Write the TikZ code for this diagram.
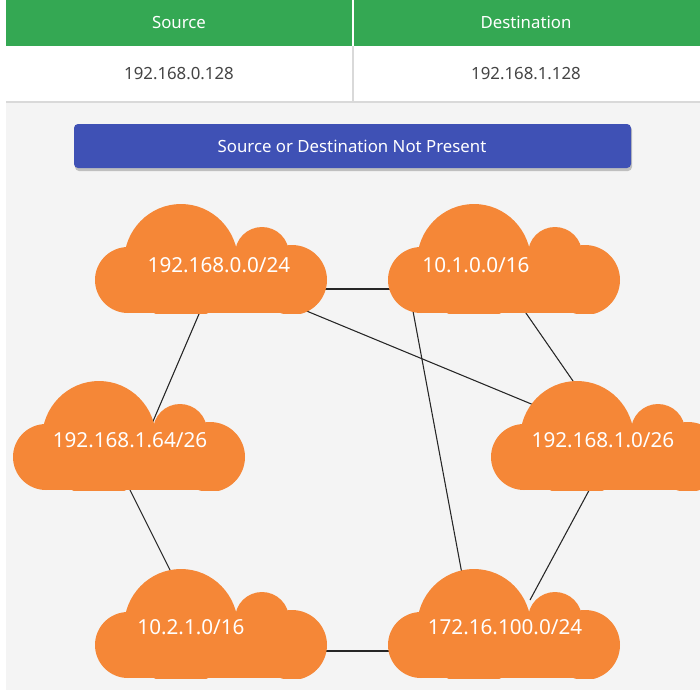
\documentclass[tikz,border=0pt]{standalone}
\usepackage{fontspec}
\setmainfont{Noto Sans}
\definecolor{hdr}{HTML}{34A853}
\definecolor{btn}{HTML}{3F51B5}
\definecolor{bg}{HTML}{F4F4F4}
\definecolor{cloudc}{HTML}{F58737}
\definecolor{txt}{HTML}{444444}
\begin{document}
\begin{tikzpicture}[x=0.75pt,y=-0.75pt,
  lbl/.style={text=white,font=\fontsize{15.5}{18}\selectfont},
  htxt/.style={text=white,font=\fontsize{12.6}{15}\selectfont},
  ctxt/.style={text=txt,font=\fontsize{12.6}{15}\selectfont},
  edge/.style={draw=black!85,line width=0.8pt}]
\useasboundingbox (0,0) rectangle (700,690);
\fill[white] (0,0) rectangle (700,690);
\fill[bg] (6,102) rectangle (700,690);
\fill[hdr] (6,0) rectangle (700,46);
\draw[white,line width=1pt] (353,0) -- (353,46);
\draw[black!15,line width=1pt] (353,46) -- (353,102);
\draw[black!15,line width=1pt] (6,102) -- (700,102);
\node[htxt] (h1) at (179,22) {Source};
\node[htxt] (h2) at (526,22) {Destination};
\node[ctxt] (v1) at (179,74) {192.168.0.128};
\node[ctxt] (v2) at (526,74) {192.168.1.128};
\fill[black!25,rounded corners=3pt] (75,126) rectangle (632,171);
\fill[btn,rounded corners=3pt] (74,124) rectangle (631,168);
\node[htxt] (b) at (352,146) {Source or Destination Not Present};
% connector end coordinates
\coordinate (c1) at (211,289);
\coordinate (c1b) at (205,300);
\coordinate (c1c) at (280,300);
\coordinate (c2) at (430,289);
\coordinate (c2b) at (510,290);
\coordinate (c2c) at (410,295);
\coordinate (c3) at (145,440);
\coordinate (c3b) at (120,470);
\coordinate (c4) at (570,420);
\coordinate (c4b) at (600,470);
\coordinate (c4c) at (600,420);
\coordinate (c5) at (180,590);
\coordinate (c5b) at (300,651);
\coordinate (c6) at (440,651);
\coordinate (c6b) at (465,590);
\coordinate (c6c) at (530,600);
\draw[edge] (c1) -- (c2);
\draw[edge] (c1b) -- (c3);
\draw[edge] (c1c) -- (c4);
\draw[edge] (c2b) -- (c4c);
\draw[edge] (c2c) -- (c6b);
\draw[edge] (c3b) -- (c5);
\draw[edge] (c4b) -- (c6c);
\draw[edge] (c5b) -- (c6);
\foreach \x/\y in {95/204, 388/204, 13/381, 491/381, 95/569, 388/569}{
  \begin{scope}[shift={(\x,\y)}]
    \clip (-5,-5) rectangle (240,109);
    \fill[cloudc] (86,58) ellipse [x radius=57,y radius=58];
    \fill[cloudc] (167,50) circle [radius=27];
    \fill[cloudc] (33,76) circle [radius=33];
    \fill[cloudc] (197,76) circle [radius=35];
    \fill[cloudc] (33,50) rectangle (197,109);
  \end{scope}}
\node[lbl] (n1) at (219,265) {192.168.0.0/24};
\node[lbl] (n2) at (476,265) {10.1.0.0/16};
\node[lbl] (n3) at (130,440) {192.168.1.64/26};
\node[lbl] (n4) at (603,440) {192.168.1.0/26};
\node[lbl] (n5) at (191,627) {10.2.1.0/16};
\node[lbl] (n6) at (505,627) {172.16.100.0/24};
\end{tikzpicture}
\end{document}
